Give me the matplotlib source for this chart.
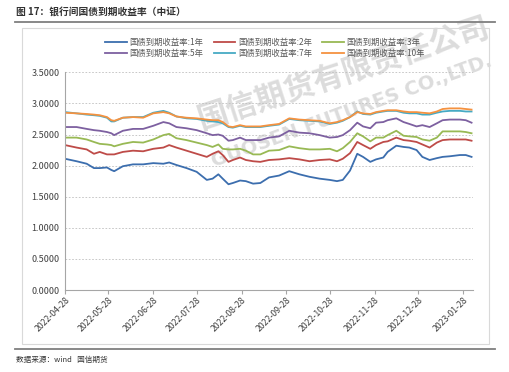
import matplotlib
matplotlib.use('Agg')
import matplotlib.pyplot as plt
import matplotlib.dates as mdates
import pandas as pd
from matplotlib.patches import Rectangle
from matplotlib.lines import Line2D

plt.rcParams['font.family'] = ['Noto Sans CJK SC', 'DejaVu Sans']

dates = pd.to_datetime([
    '2022-04-28', '2022-05-06', '2022-05-13', '2022-05-18', '2022-05-22', '2022-05-27',
    '2022-05-30', '2022-06-01', '2022-06-07', '2022-06-14', '2022-06-21', '2022-06-28',
    '2022-07-05', '2022-07-09', '2022-07-14', '2022-07-21', '2022-07-28', '2022-08-04',
    '2022-08-08', '2022-08-12', '2022-08-15', '2022-08-19', '2022-08-22', '2022-08-27',
    '2022-08-31', '2022-09-05', '2022-09-10', '2022-09-16', '2022-09-23', '2022-09-30',
    '2022-10-07', '2022-10-14', '2022-10-21', '2022-10-28', '2022-11-02', '2022-11-06',
    '2022-11-11', '2022-11-16', '2022-11-20', '2022-11-25', '2022-11-29', '2022-12-04',
    '2022-12-07', '2022-12-13', '2022-12-18', '2022-12-22', '2022-12-27', '2022-12-31',
    '2023-01-05', '2023-01-10', '2023-01-14', '2023-01-19', '2023-01-26', '2023-01-30',
    '2023-02-03',
])

y1 = [2.11, 2.07, 2.03, 1.96, 1.96, 1.97, 1.93, 1.91, 1.99, 2.02, 2.02, 2.04,
      2.03, 2.05, 2.01, 1.96, 1.90, 1.77, 1.79, 1.86, 1.79, 1.70, 1.72, 1.76,
      1.75, 1.71, 1.72, 1.81, 1.84, 1.91, 1.86, 1.82, 1.79, 1.77, 1.75, 1.77,
      1.92, 2.19, 2.14, 2.06, 2.10, 2.13, 2.22, 2.32, 2.30, 2.29, 2.25, 2.14,
      2.09, 2.12, 2.14, 2.15, 2.17, 2.17, 2.14]
y2 = [2.33, 2.29, 2.26, 2.19, 2.22, 2.18, 2.18, 2.18, 2.22, 2.24, 2.23, 2.27,
      2.29, 2.33, 2.29, 2.24, 2.19, 2.14, 2.19, 2.23, 2.17, 2.06, 2.09, 2.13,
      2.09, 2.07, 2.06, 2.09, 2.10, 2.12, 2.10, 2.07, 2.09, 2.10, 2.07, 2.11,
      2.20, 2.38, 2.33, 2.27, 2.33, 2.38, 2.39, 2.45, 2.41, 2.40, 2.38, 2.34,
      2.29, 2.37, 2.41, 2.42, 2.42, 2.42, 2.40]
y3 = [2.45, 2.45, 2.42, 2.38, 2.35, 2.34, 2.33, 2.31, 2.35, 2.38, 2.37, 2.42,
      2.49, 2.51, 2.44, 2.41, 2.37, 2.33, 2.30, 2.34, 2.27, 2.26, 2.26, 2.27,
      2.24, 2.18, 2.18, 2.24, 2.25, 2.31, 2.28, 2.26, 2.26, 2.27, 2.23, 2.28,
      2.38, 2.52, 2.47, 2.39, 2.45, 2.45, 2.49, 2.56, 2.48, 2.47, 2.46, 2.42,
      2.40, 2.45, 2.55, 2.55, 2.55, 2.54, 2.52]
y5 = [2.62, 2.62, 2.59, 2.57, 2.56, 2.54, 2.52, 2.49, 2.56, 2.59, 2.59, 2.64,
      2.70, 2.68, 2.62, 2.60, 2.57, 2.52, 2.49, 2.50, 2.48, 2.40, 2.41, 2.45,
      2.41, 2.41, 2.41, 2.45, 2.47, 2.56, 2.53, 2.52, 2.49, 2.45, 2.46, 2.49,
      2.57, 2.69, 2.63, 2.60, 2.69, 2.70, 2.73, 2.76, 2.70, 2.67, 2.63, 2.65,
      2.62, 2.68, 2.73, 2.74, 2.74, 2.73, 2.69]
y7 = [2.86, 2.84, 2.82, 2.81, 2.80, 2.77, 2.71, 2.71, 2.77, 2.78, 2.78, 2.85,
      2.88, 2.85, 2.79, 2.76, 2.75, 2.72, 2.71, 2.70, 2.68, 2.62, 2.61, 2.64,
      2.62, 2.62, 2.62, 2.64, 2.66, 2.75, 2.73, 2.72, 2.71, 2.67, 2.69, 2.72,
      2.78, 2.87, 2.83, 2.82, 2.85, 2.87, 2.88, 2.88, 2.85, 2.84, 2.84, 2.82,
      2.82, 2.85, 2.87, 2.88, 2.88, 2.87, 2.87]
y10 = [2.85, 2.84, 2.83, 2.82, 2.81, 2.78, 2.73, 2.72, 2.77, 2.78, 2.77, 2.84,
       2.86, 2.84, 2.79, 2.77, 2.76, 2.74, 2.73, 2.73, 2.70, 2.63, 2.62, 2.65,
       2.63, 2.63, 2.63, 2.65, 2.67, 2.76, 2.74, 2.73, 2.72, 2.68, 2.70, 2.73,
       2.78, 2.86, 2.84, 2.83, 2.86, 2.88, 2.89, 2.89, 2.87, 2.86, 2.86, 2.85,
       2.84, 2.87, 2.91, 2.92, 2.92, 2.91, 2.90]

labels = ['国债到期收益率:1年', '国债到期收益率:2年', '国债到期收益率:3年',
          '国债到期收益率:5年', '国债到期收益率:7年', '国债到期收益率:10年']
colors = ['#3C6EAE', '#BE4B48', '#98B954', '#7D60A0', '#46AAC4', '#F59240']
series = [y1, y2, y3, y5, y7, y10]

tick_dates = pd.to_datetime(['2022-04-28', '2022-05-28', '2022-06-28', '2022-07-28',
                             '2022-08-28', '2022-09-28', '2022-10-28', '2022-11-28',
                             '2022-12-28', '2023-01-28'])

fig = plt.figure(figsize=(5.1, 3.72), dpi=100)

# chart frame and header/footer rules
fig.patches.append(Rectangle((22 / 510, 1 - 344 / 372), 467 / 510, 316 / 372,
                             transform=fig.transFigure, fill=False,
                             edgecolor='#D9D9D9', linewidth=0.8))
fig.add_artist(Line2D([15 / 510, 495 / 510], [1 - 22 / 372, 1 - 22 / 372],
                      color='#7F7F7F', linewidth=1.3))
fig.add_artist(Line2D([15 / 510, 495 / 510], [1 - 349 / 372, 1 - 349 / 372],
                      color='#7F7F7F', linewidth=1.3))
fig.text(16 / 510, 1 - 12 / 372, '图 17：银行间国债到期收益率（中证）',
         fontsize=7, fontweight='bold', color='#333333', va='center')
fig.text(16 / 510, 1 - 360 / 372, '数据来源：wind   国信期货',
         fontsize=5.5, color='#333333', va='center')

# watermark
fig.text(0.675, 0.80, '国信期货有限责任公司', fontsize=22, color='#DCDCDC',
         rotation=18, ha='center', va='center', fontweight='bold', zorder=-1)
fig.text(0.69, 0.70, 'GUOSEN FUTURES CO.,LTD.', fontsize=14, color='#DCDCDC',
         rotation=20, ha='center', va='center', fontweight='bold', zorder=-1,
         family='DejaVu Sans')

ax = fig.add_axes([65 / 510, 1 - 290 / 372, 408 / 510, 217.7 / 372])
ax.patch.set_alpha(0)

handles = []
for ys, lab, c in zip(series, labels, colors):
    h, = ax.plot(dates, ys, color=c, linewidth=1.3, label=lab)
    handles.append(h)

ax.set_ylim(0, 3.5)
ax.set_yticks([0, 0.5, 1.0, 1.5, 2.0, 2.5, 3.0, 3.5])
ax.yaxis.set_major_formatter(plt.FuncFormatter(lambda v, p: f'{v:.4f}'))
ax.set_xlim(pd.Timestamp('2022-04-28'), pd.Timestamp('2023-02-04'))
ax.set_xticks(tick_dates)
ax.xaxis.set_major_formatter(mdates.DateFormatter('%Y-%m-%d'))
ax.grid(axis='y', linestyle=(0, (2, 2)), color='#BFBFBF', linewidth=0.6)
ax.set_axisbelow(True)

for s in ['top', 'right']:
    ax.spines[s].set_visible(False)
ax.spines['left'].set_color('#A6A6A6')
ax.spines['bottom'].set_color('#A6A6A6')
ax.tick_params(axis='y', length=0, labelsize=6.5, labelcolor='#404040', pad=4)
ax.tick_params(axis='x', length=3, color='#A6A6A6', labelsize=6.3,
               labelcolor='#404040', pad=1)
for t in ax.get_xticklabels():
    t.set_rotation(45)
    t.set_ha('right')
    t.set_rotation_mode('anchor')

# legend filled row by row: 1,2,3 / 5,7,10
order = [0, 3, 1, 4, 2, 5]
fig.legend([handles[i] for i in order], [labels[i] for i in order],
           loc='center', bbox_to_anchor=(265 / 510, 1 - 48 / 372), ncol=3,
           frameon=False, fontsize=6, handlelength=2.6, handletextpad=0.3,
           columnspacing=1.2, labelspacing=0.25, labelcolor='#595959')

fig.savefig('out.png', dpi=100)
